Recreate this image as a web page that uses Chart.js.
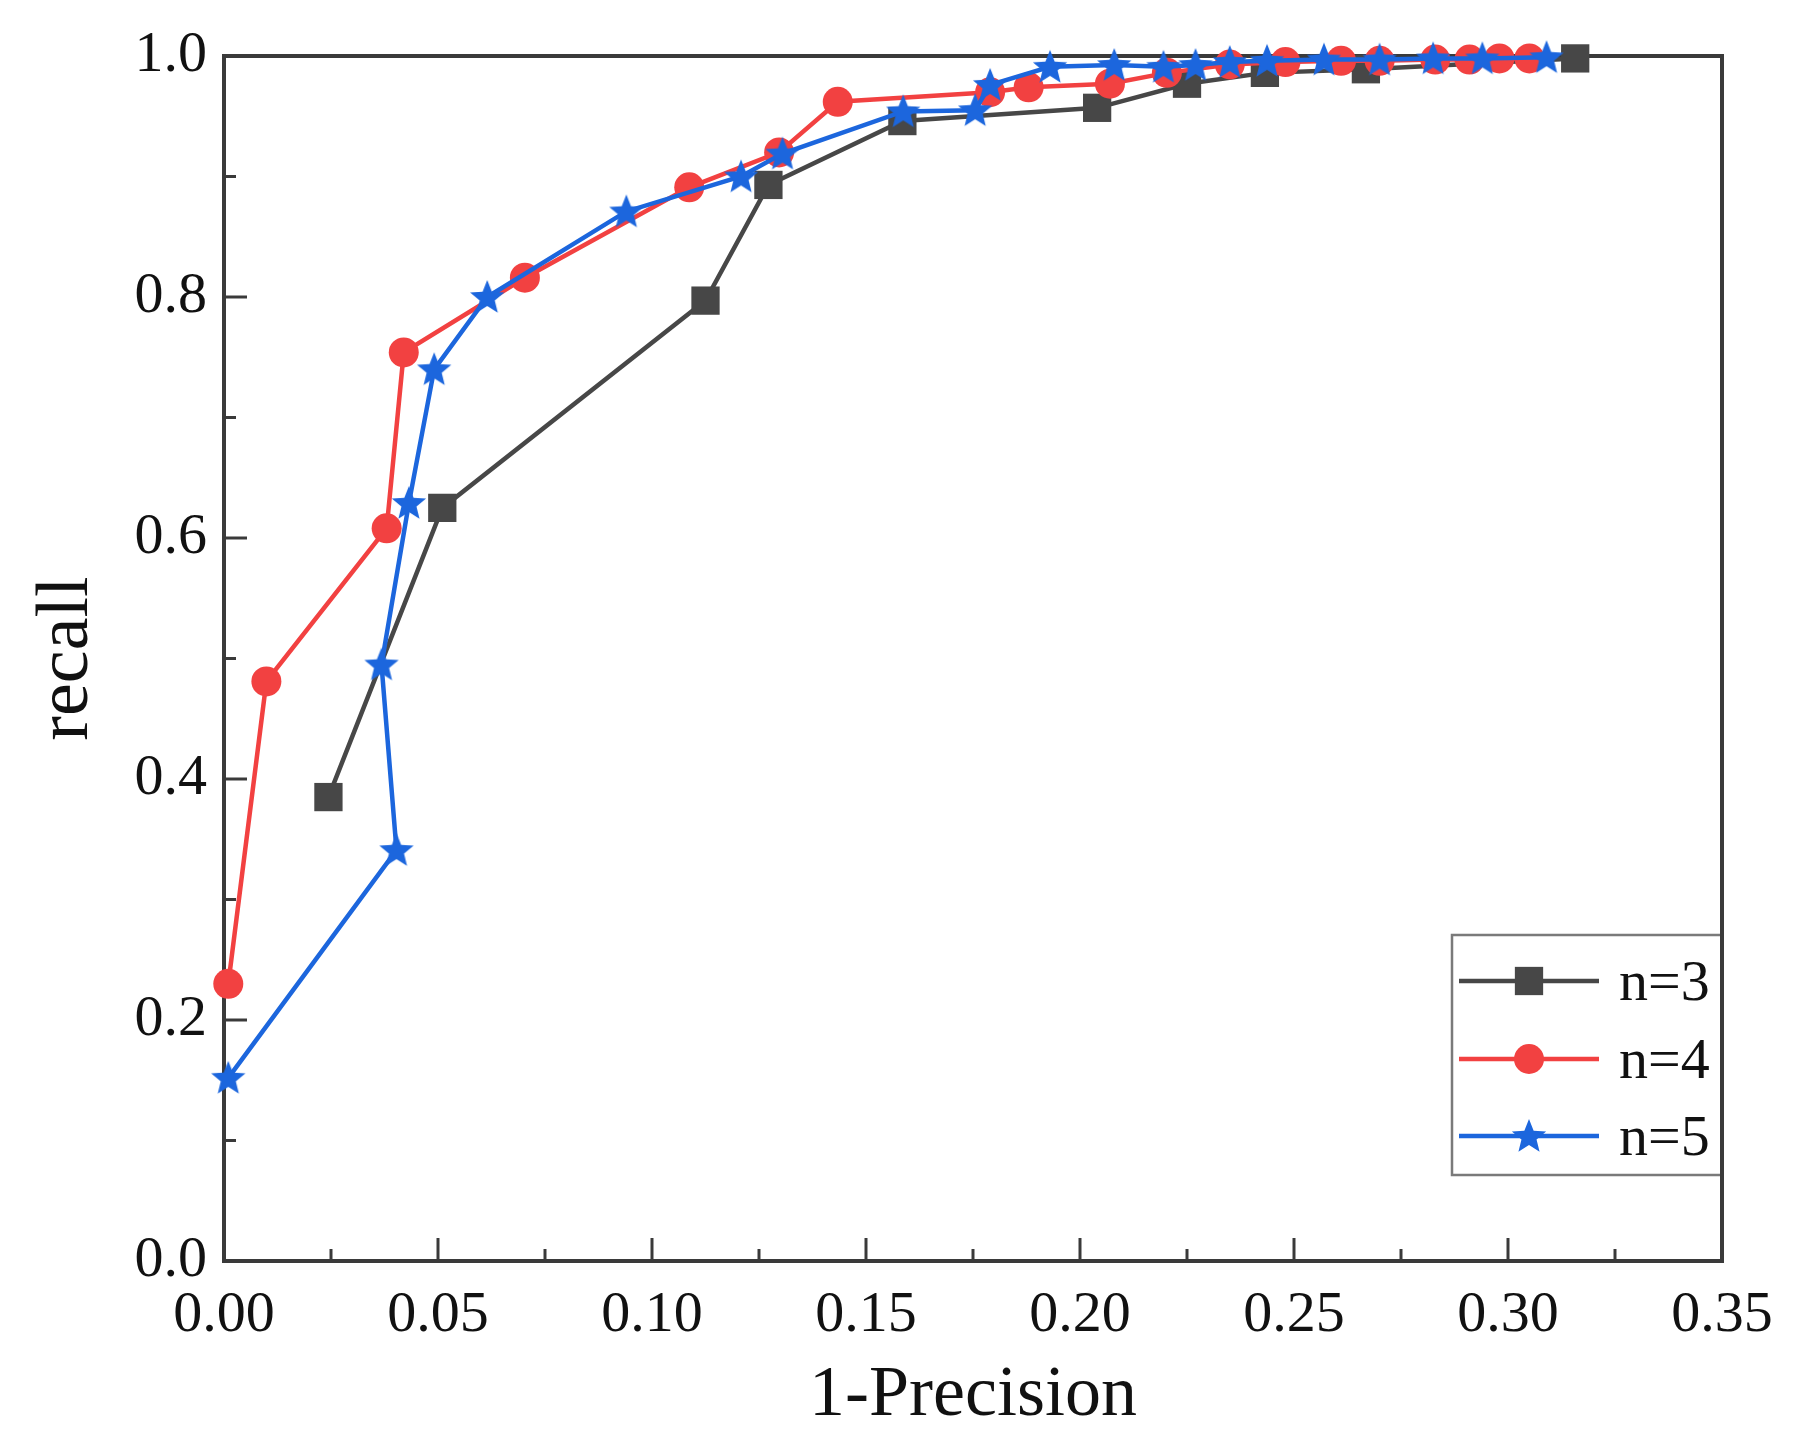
<!DOCTYPE html>
<html>
<head>
<meta charset="utf-8">
<script src="https://cdn.jsdelivr.net/npm/chart.js@4.4.1/dist/chart.umd.min.js"></script>
<style>
html,body{margin:0;padding:0;background:#ffffff;overflow:hidden}
canvas{display:block}
</style>
</head>
<body>
<canvas id="c" width="1804" height="1453"></canvas>
<script>
// ---------------- data ----------------
const seriesLabels = ['n=3', 'n=4', 'n=5'];

const x3 = [0.0244, 0.051, 0.1125, 0.1272, 0.1585, 0.204, 0.225, 0.2432, 0.2668, 0.3157];
const y3 = [0.385, 0.625, 0.797, 0.893, 0.946, 0.957, 0.977, 0.986, 0.989, 0.998];

const x4 = [0.001, 0.0099, 0.038, 0.042, 0.0703, 0.1087, 0.1297, 0.1434, 0.179, 0.188, 0.207, 0.2203,
            0.235, 0.248, 0.261, 0.270, 0.283, 0.291, 0.298, 0.305];
const y4 = [0.230, 0.481, 0.608, 0.754, 0.816, 0.891, 0.920, 0.962, 0.970, 0.974, 0.977, 0.986,
            0.993, 0.995, 0.996, 0.996, 0.997, 0.997, 0.998, 0.998];

const x5 = [0.001, 0.0403, 0.0368, 0.0432, 0.0491, 0.0615, 0.094, 0.1208, 0.1305, 0.1587, 0.1755, 0.179,
            0.193, 0.208, 0.2195, 0.227, 0.235, 0.2437, 0.257, 0.270, 0.2825, 0.294, 0.309];
const y5 = [0.152, 0.341, 0.495, 0.629, 0.740, 0.800, 0.871, 0.900, 0.919, 0.954, 0.955, 0.976,
            0.991, 0.9925, 0.991, 0.9925, 0.995, 0.996, 0.997, 0.997, 0.998, 0.998, 0.999];

const xTickValues = [0, 0.05, 0.10, 0.15, 0.20, 0.25, 0.30, 0.35];
const xTickLabels = ['0.00', '0.05', '0.10', '0.15', '0.20', '0.25', '0.30', '0.35'];
const xMinorValues = [0.025, 0.075, 0.125, 0.175, 0.225, 0.275, 0.325];
const yTickValues = [0, 0.2, 0.4, 0.6, 0.8, 1.0];
const yTickLabels = ['0.0', '0.2', '0.4', '0.6', '0.8', '1.0'];
const yMinorValues = [0.1, 0.3, 0.5, 0.7, 0.9];

const xTitle = '1-Precision';
const yTitle = 'recall';

// ---------------- styles ----------------
const FONT = "'Liberation Serif', 'Times New Roman', serif";
const C3 = '#474747', C4 = '#f24141', C5 = '#1c66dd';
const AXIS = '#3a3a3a';

function makeStar(color, R) {
  const s = Math.ceil(R * 2 + 4);
  const c = document.createElement('canvas');
  c.width = s; c.height = s;
  const g = c.getContext('2d');
  g.fillStyle = color;
  g.beginPath();
  for (let i = 0; i < 10; i++) {
    const r = (i % 2) ? R * 0.44 : R;
    const a = -Math.PI / 2 + i * Math.PI / 5;
    g.lineTo(s / 2 + r * Math.cos(a), s / 2 + r * Math.sin(a) + R * 0.06);
  }
  g.closePath();
  g.fill();
  return c;
}
const starImg = makeStar(C5, 18);

function pts(xs, ys) { return xs.map((x, i) => ({ x: x, y: ys[i] })); }

const datasets = [
  { label: seriesLabels[0], data: pts(x3, y3), borderColor: C3, backgroundColor: C3,
    pointStyle: 'rect', pointRadius: 20, order: 3 },
  { label: seriesLabels[1], data: pts(x4, y4), borderColor: C4, backgroundColor: C4,
    pointStyle: 'circle', pointRadius: 15, order: 2 },
  { label: seriesLabels[2], data: pts(x5, y5), borderColor: C5, backgroundColor: C5,
    pointStyle: starImg, pointRadius: 18, order: 1 }
].map(d => Object.assign({ showLine: true, borderWidth: 4.5, pointBorderWidth: 0,
  pointHoverRadius: d.pointRadius, tension: 0, clip: false, fill: false }, d));

// ---------------- plugins ----------------
const framePlugin = {
  id: 'frame',
  beforeDatasetsDraw(chart) {
    const { ctx, chartArea: a, scales } = chart;
    ctx.save();
    ctx.strokeStyle = AXIS;
    ctx.lineWidth = 3;
    ctx.lineCap = 'butt';
    const tick = (x1, y1, x2, y2) => { ctx.beginPath(); ctx.moveTo(x1, y1); ctx.lineTo(x2, y2); ctx.stroke(); };
    xTickValues.forEach(v => { const x = scales.x.getPixelForValue(v); tick(x, a.bottom, x, a.bottom - 23); });
    xMinorValues.forEach(v => { const x = scales.x.getPixelForValue(v); tick(x, a.bottom, x, a.bottom - 12); });
    yTickValues.forEach(v => { const y = scales.y.getPixelForValue(v); tick(a.left, y, a.left + 23, y); });
    yMinorValues.forEach(v => { const y = scales.y.getPixelForValue(v); tick(a.left, y, a.left + 12, y); });
    ctx.lineWidth = 4;
    ctx.strokeRect(a.left, a.top, a.right - a.left, a.bottom - a.top);
    ctx.restore();
  }
};

function drawMarker(ctx, ds, x, y) {
  const st = ds.pointStyle, r = ds.pointRadius;
  ctx.fillStyle = ds.backgroundColor;
  if (st === 'rect') {
    const s = Math.SQRT1_2 * r;
    ctx.fillRect(x - s, y - s, 2 * s, 2 * s);
  } else if (st === 'circle') {
    ctx.beginPath(); ctx.arc(x, y, r, 0, Math.PI * 2); ctx.fill();
  } else if (st && st.width) {
    ctx.drawImage(st, x - st.width / 2, y - st.height / 2);
  }
}

const legendPlugin = {
  id: 'innerLegend',
  afterDraw(chart) {
    const { ctx, chartArea: a } = chart;
    const right = a.right, left = a.right - 270, bottom = a.bottom - 86, top = bottom - 240;
    ctx.save();
    ctx.fillStyle = '#ffffff';
    ctx.fillRect(left, top, right - left, bottom - top);
    ctx.strokeStyle = '#7a7a7a';
    ctx.lineWidth = 2.5;
    ctx.strokeRect(left, top, right - left, bottom - top);
    ctx.strokeStyle = AXIS; ctx.lineWidth = 4;
    ctx.beginPath(); ctx.moveTo(right, top - 2); ctx.lineTo(right, bottom + 2); ctx.stroke();
    const rows = [top + 46, top + 124, top + 201];
    chart.data.datasets.forEach((ds, i) => {
      const y = rows[i];
      ctx.strokeStyle = ds.borderColor;
      ctx.lineWidth = 4.5;
      ctx.beginPath(); ctx.moveTo(left + 7, y); ctx.lineTo(left + 147, y); ctx.stroke();
      drawMarker(ctx, ds, left + 77, y);
      ctx.fillStyle = '#111111';
      ctx.font = '58px ' + FONT;
      ctx.textAlign = 'left';
      ctx.textBaseline = 'middle';
      ctx.fillText(ds.label, left + 167, y + 4);
    });
    ctx.restore();
  }
};

// ---------------- chart ----------------
new Chart(document.getElementById('c'), {
  type: 'scatter',
  data: { datasets: datasets },
  plugins: [framePlugin, legendPlugin],
  options: {
    responsive: false,
    animation: false,
    devicePixelRatio: 1,
    layout: { padding: { top: 56, right: 82, left: 0, bottom: 0 } },
    plugins: { legend: { display: false }, tooltip: { enabled: false } },
    events: [],
    scales: {
      x: {
        type: 'linear', position: 'bottom', min: 0, max: 0.35,
        afterBuildTicks: s => { s.ticks = xTickValues.map(v => ({ value: v })); },
        afterFit: s => { s.height = 192; },
        ticks: { callback: (v, i) => xTickLabels[i], font: { family: FONT, size: 58 },
                 color: '#111111', padding: 20, maxRotation: 0, autoSkip: false },
        grid: { display: false, drawTicks: false },
        border: { display: false },
        title: { display: true, text: xTitle, color: '#111111',
                 font: { family: FONT, size: 72 }, padding: { top: 0, bottom: 14 } }
      },
      y: {
        type: 'linear', position: 'left', min: 0, max: 1.0,
        afterBuildTicks: s => { s.ticks = yTickValues.map(v => ({ value: v })); },
        afterFit: s => { s.width = 224; },
        ticks: { callback: (v, i) => yTickLabels[i], font: { family: FONT, size: 58 },
                 color: '#111111', padding: 17, autoSkip: false },
        grid: { display: false, drawTicks: false },
        border: { display: false },
        title: { display: true, text: yTitle, color: '#111111',
                 font: { family: FONT, size: 74 }, padding: { top: 23, bottom: 0 } }
      }
    }
  }
});
</script>
</body>
</html>
